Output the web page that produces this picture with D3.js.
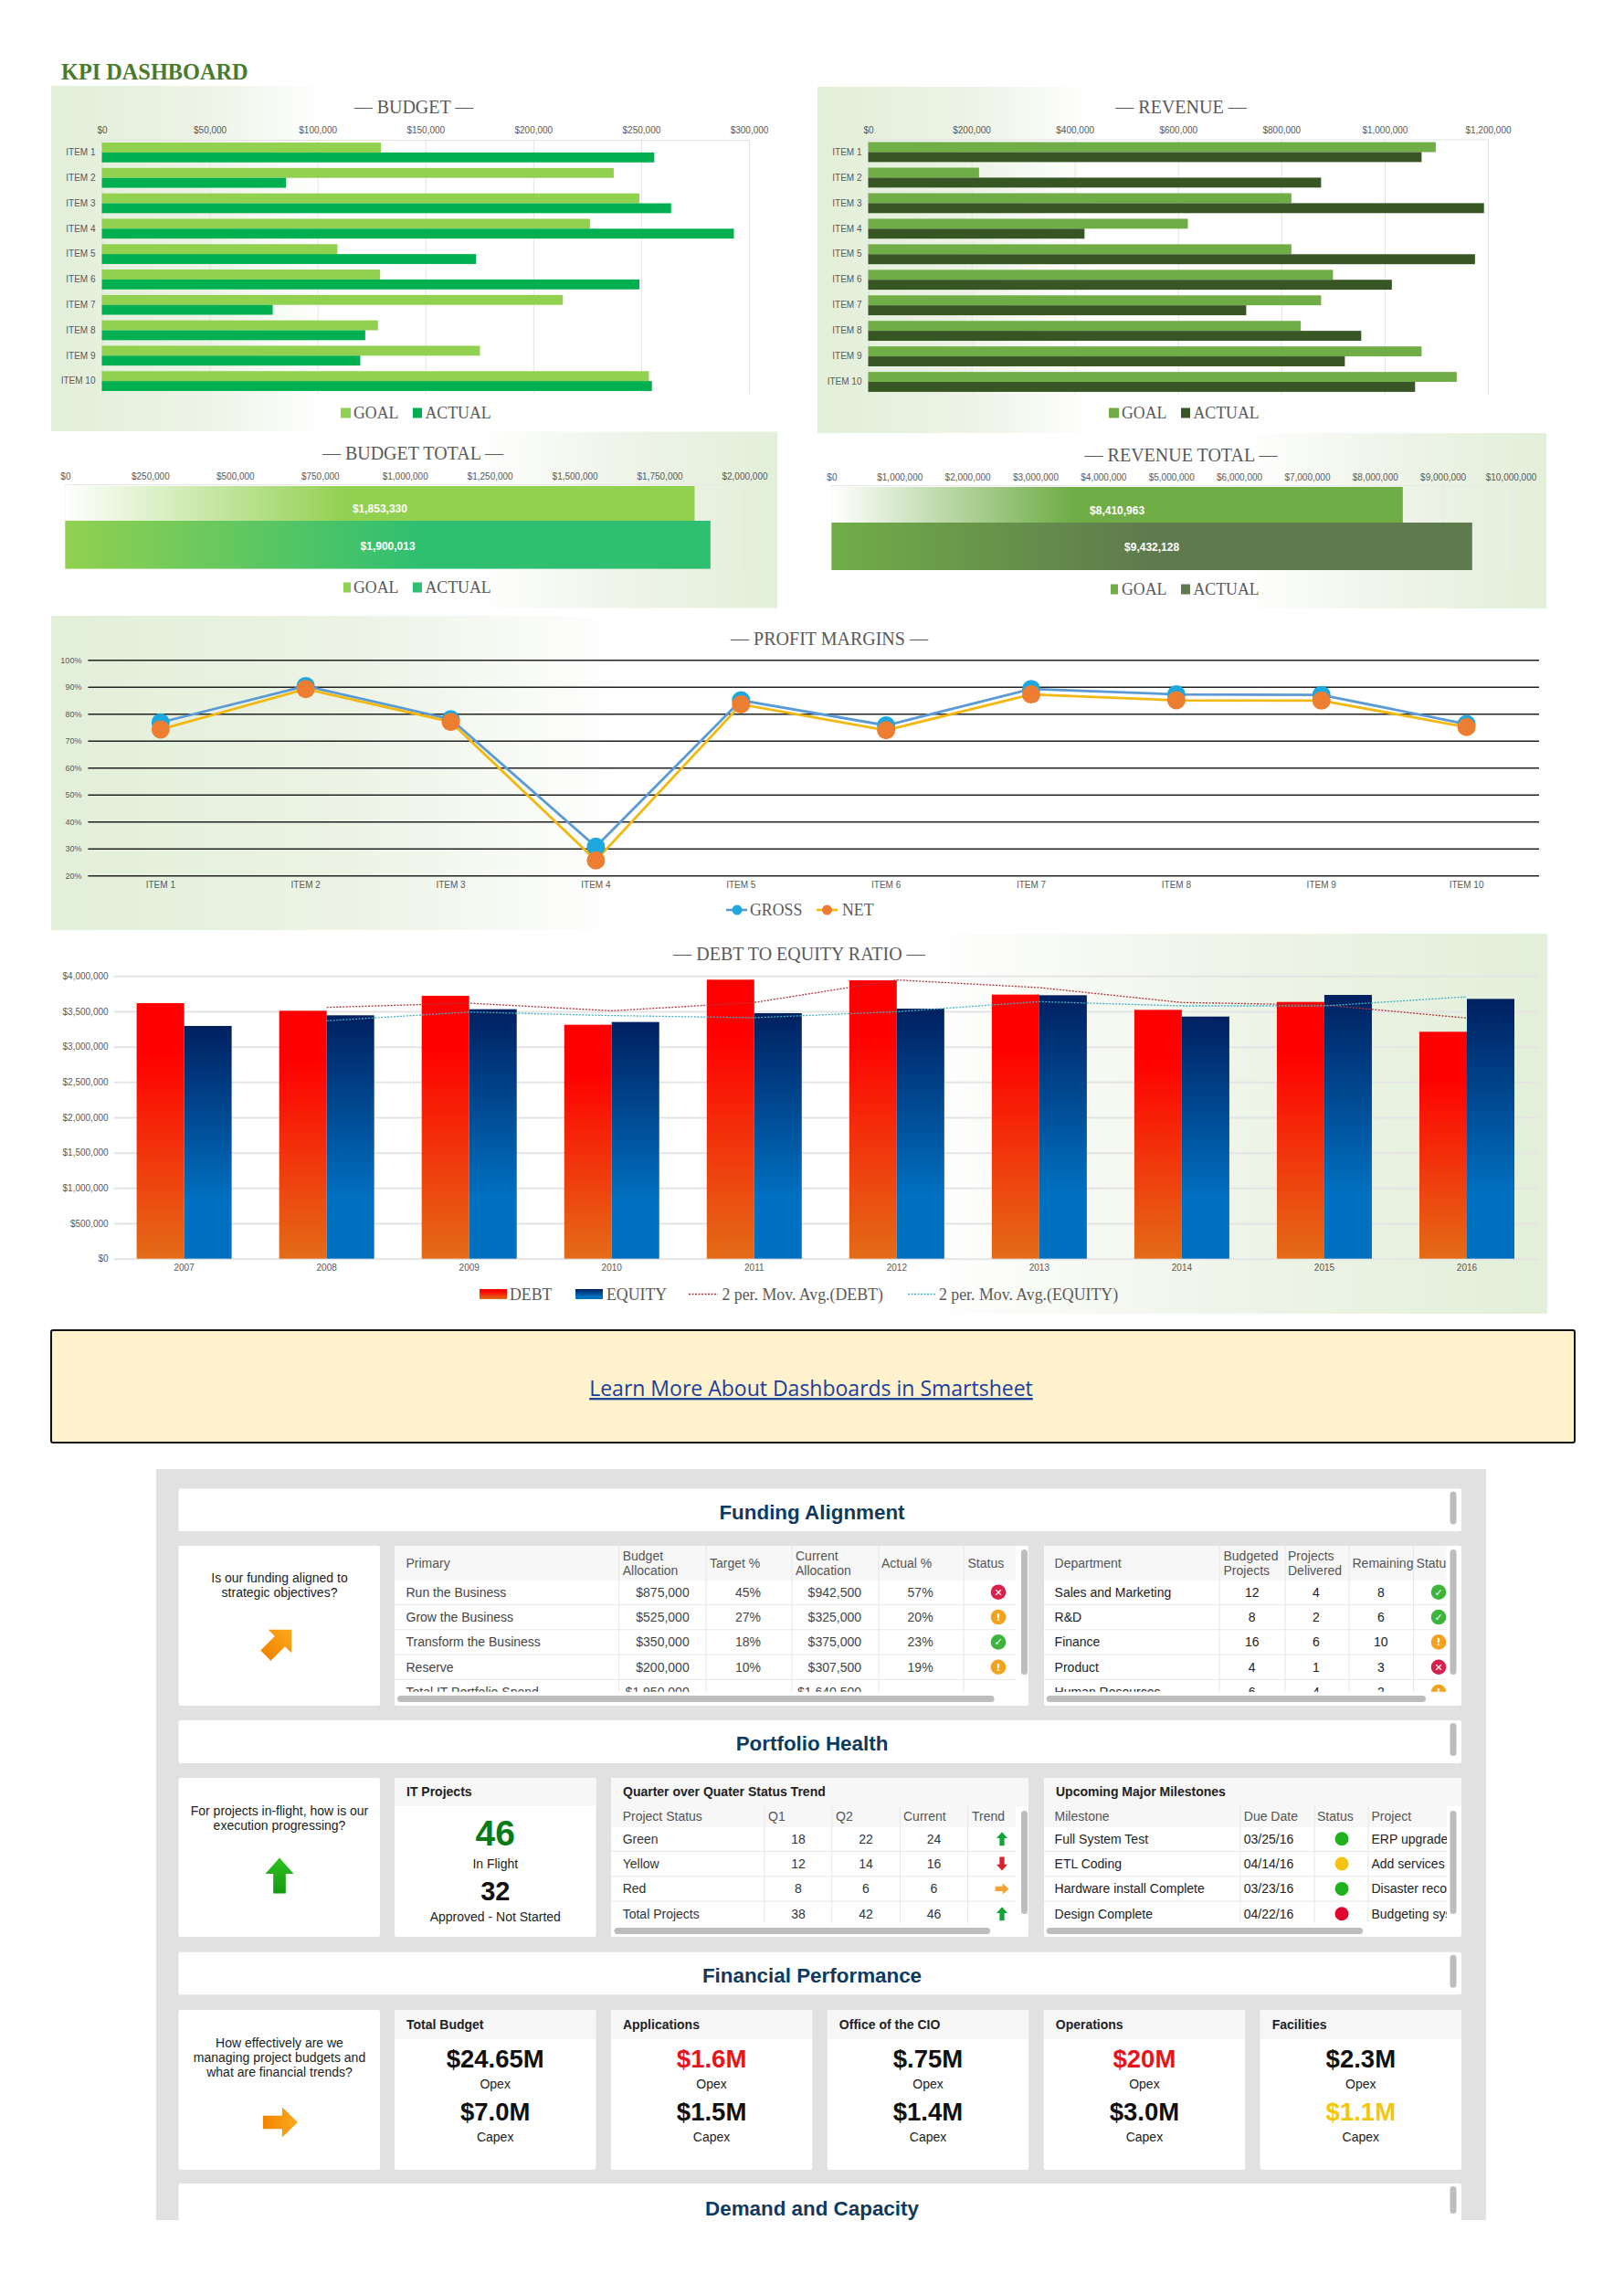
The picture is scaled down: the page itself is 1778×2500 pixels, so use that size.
<!DOCTYPE html>
<html>
<head>
<meta charset="utf-8">
<title>KPI Dashboard</title>
<script src="https://cdn.jsdelivr.net/npm/d3@7"></script>
<style>
body{margin:0;background:#fff}
svg{display:block}
.sans{font-family:"Liberation Sans",Arial,sans-serif}
.serif{font-family:"Liberation Serif","Times New Roman",serif}
</style>
</head>
<body>
<svg id="chart" width="1778" height="2500"></svg>
<script>
// chart data
var items = ["ITEM 1","ITEM 2","ITEM 3","ITEM 4","ITEM 5","ITEM 6","ITEM 7","ITEM 8","ITEM 9","ITEM 10"]
var budgetGoal = [129400,237300,249200,226300,109200,129000,213700,128000,175300,253600]
var budgetActual = [256100,85400,263900,293000,173500,249200,79200,122100,119800,255000]
var revenueGoal = [1099000,214700,819500,619000,819500,900000,877000,837700,1071600,1139700]
var revenueActual = [1071600,877000,1192400,418900,1175000,1014000,732000,954700,923000,1059000]
var budgetTotals = [1853330,1900013]
var revenueTotals = [8410963,9432128]
var totalNames = ["GOAL","ACTUAL"]
var gross = [76.8,90.3,78,30.7,85,75.7,89.2,87.2,87,76.2]
var net = [74.2,89.2,77,25.6,83.5,73.9,87.2,85,84.9,75.1]
var marginTicks = [20,30,40,50,60,70,80,90,100]
var years = ["2007","2008","2009","2010","2011","2012","2013","2014","2015","2016"]
var debt = [3616000,3508000,3720000,3310000,3948000,3939000,3737000,3521000,3633000,3211000]
var equity = [3293000,3444000,3530000,3349000,3474000,3538000,3728000,3426000,3732000,3676000]
var debtAvg = [null,3556000,3616000,3508000,3625000,3944000,3836000,3625000,3590000,3405000]
var equityAvg = [null,3366000,3490000,3440000,3410000,3495000,3637000,3577000,3577000,3706000]

// dashboard tables
var fundingHead = ["Primary","Budget\nAllocation","Target %","Current\nAllocation","Actual %","Status"]
var fundingRows = [
  ["Run the Business","$875,000","45%","$942,500","57%","bad"],
  ["Grow the Business","$525,000","27%","$325,000","20%","warn"],
  ["Transform the Business","$350,000","18%","$375,000","23%","good"],
  ["Reserve","$200,000","10%","$307,500","19%","warn"],
  ["Total IT Portfolio Spend","$1,950,000","","$1,640,500","",""]
]
var deptHead = ["Department","Budgeted\nProjects","Projects\nDelivered","Remaining","Status"]
var deptRows = [
  ["Sales and Marketing","12","4","8","good"],
  ["R&D","8","2","6","good"],
  ["Finance","16","6","10","warn"],
  ["Product","4","1","3","bad"],
  ["Human Resources","6","4","2","warn"]
]
var quarterHead = ["Project Status","Q1","Q2","Current","Trend"]
var quarterRows = [
  ["Green","18","22","24","up"],
  ["Yellow","12","14","16","down"],
  ["Red","8","6","6","right"],
  ["Total Projects","38","42","46","up"]
]
var mileHead = ["Milestone","Due Date","Status","Project"]
var mileRows = [
  ["Full System Test","03/25/16","green","ERP upgrade"],
  ["ETL Coding","04/14/16","yellow","Add services"],
  ["Hardware install Complete","03/23/16","green","Disaster recovery"],
  ["Design Complete","04/22/16","red","Budgeting system"]
]
var finNames = ["Total Budget","Applications","Office of the CIO","Operations","Facilities"]
var finOpex = ["$24.65M","$1.6M","$.75M","$20M","$2.3M"]
var finCapex = ["$7.0M","$1.5M","$1.4M","$3.0M","$1.1M"]
var finOpexFlag = ["ok","red","ok","red","ok"]
var finCapexFlag = ["ok","ok","ok","ok","yellow"]

var svg = d3.select("#chart")
var defs = svg.append("defs")

var addGradient = function(id, stops, vertical)
{
    var g = defs.append("linearGradient").attr("id",id)
        .attr("x1","0").attr("y1","0")
        .attr("x2",vertical ? "0" : "1").attr("y2",vertical ? "1" : "0")
    stops.forEach(function(s)
    {
        g.append("stop").attr("offset",s[0]).attr("stop-color",s[1])
    })
}
addGradient("panelLeft",[[0,"#e2efd9"],[0.2,"#ecf3e5"],[0.38,"#ffffff"],[1,"#ffffff"]])
addGradient("panelRight",[[0,"#ffffff"],[0.58,"#ffffff"],[0.8,"#eef4e8"],[1,"#e2efd9"]])
addGradient("budgetGoalFill",[[0,"#ffffff"],[0.45,"#92d050"],[1,"#92d050"]])
addGradient("budgetActualFill",[[0,"#92d050"],[0.55,"#2fbf71"],[1,"#2fbf71"]])
addGradient("revenueGoalFill",[[0,"#ffffff"],[0.42,"#70ad47"],[1,"#70ad47"]])
addGradient("revenueActualFill",[[0,"#70ad47"],[0.5,"#5f7a4e"],[1,"#5f7a4e"]])
addGradient("debtFill",[[0,"#ff0000"],[0.2,"#ff0000"],[1,"#e36c17"]],true)
addGradient("equityFill",[[0,"#002060"],[0.75,"#0070c0"],[1,"#0070c0"]],true)
addGradient("orangeArrow",[[0,"#ffa91f"],[1,"#f08400"]],true)
addGradient("greenArrow",[[0,"#2fc01f"],[1,"#129a12"]],true)

var panel = function(x,y,w,h,fill)
{
    svg.append("rect").attr("x",x).attr("y",y).attr("width",w).attr("height",h)
        .attr("fill","url(#"+fill+")")
}

var chartTitle = function(text,x,y)
{
    svg.append("text").attr("class","serif").attr("x",x).attr("y",y).attr("dy","0.35em")
        .attr("text-anchor","middle").attr("font-size",20).attr("fill","#595959")
        .text("— "+text+" —")
}

var legendText = function(text,x,y)
{
    svg.append("text").attr("class","serif").attr("x",x).attr("y",y).attr("dy","0.35em")
        .attr("font-size",17.8).attr("fill","#595959").text(text)
}
var legendBox = function(x,y,w,h,fill)
{
    svg.append("rect").attr("x",x).attr("y",y-h/2).attr("width",w).attr("height",h).attr("fill",fill)
}

var styleTicks = function(g)
{
    g.selectAll("text").attr("class","sans").attr("font-size",10).attr("fill","#595959")
        .attr("font-family",null)
    g.attr("font-family",null)
}

// budget and revenue horizontal bars
var itemBars = function(o)
{
    var x = d3.scaleLinear().domain([0,o.max]).range([o.x0,o.x1])
    var y = d3.scaleBand().domain(items).range([o.top,o.bottom]).paddingInner(0.22).paddingOuter(0.11)

    var xAxis = d3.axisTop(x).tickValues(d3.range(0,o.max+1,o.step))
        .tickFormat(d3.format("$,")).tickSize(-(o.bottom-o.top)).tickPadding(5)
    var gx = svg.append("g").attr("transform","translate(0,"+o.top+")").call(xAxis)
    gx.select(".domain").attr("stroke","#e2e2e2")
    gx.selectAll("line").attr("stroke","#e4e4e4")
    styleTicks(gx)
    gx.selectAll("text").attr("y",-7)

    var yAxis = d3.axisLeft(y).tickSize(0).tickPadding(7)
    var gy = svg.append("g").attr("transform","translate("+o.x0+",0)").call(yAxis)
    gy.select(".domain").attr("stroke","#e2e2e2")
    styleTicks(gy)

    var h = y.bandwidth()/2
    svg.append("g").selectAll("rect").data(o.goal).enter().append("rect")
        .attr("x",o.x0).attr("y",function(d,i){return y(items[i])})
        .attr("width",function(d){return x(d)-o.x0}).attr("height",h).attr("fill",o.goalColor)
    svg.append("g").selectAll("rect").data(o.actual).enter().append("rect")
        .attr("x",o.x0).attr("y",function(d,i){return y(items[i])+h})
        .attr("width",function(d){return x(d)-o.x0}).attr("height",h).attr("fill",o.actualColor)
}

// the two big total bars
var totalBars = function(o)
{
    var x = d3.scaleLinear().domain([0,o.max]).range([o.x0,o.x1])
    var xAxis = d3.axisTop(x).tickValues(d3.range(0,o.max+1,o.step))
        .tickFormat(d3.format("$,")).tickSize(-(o.bottom-o.top)).tickPadding(5)
    var gx = svg.append("g").attr("transform","translate(0,"+o.top+")").call(xAxis)
    gx.select(".domain").attr("stroke","#e8e8e8")
    gx.selectAll("line").attr("stroke","#e8e8e8")
    styleTicks(gx)
    gx.selectAll("text").attr("y",-5)

    var tops = [o.top+2,o.split]
    var bottoms = [o.split,o.bottom]
    var fills = [o.goalFill,o.actualFill]
    var labelY = [o.split-13,(o.split+o.bottom)/2+1]
    svg.append("g").selectAll("rect").data(o.values).enter().append("rect")
        .attr("x",o.x0).attr("y",function(d,i){return tops[i]})
        .attr("width",function(d){return x(d)-o.x0})
        .attr("height",function(d,i){return bottoms[i]-tops[i]})
        .attr("fill",function(d,i){return "url(#"+fills[i]+")"})
    svg.append("g").selectAll("text").data(o.values).enter().append("text")
        .attr("class","sans").attr("x",function(d){return (x(d)+o.x0)/2})
        .attr("y",function(d,i){return labelY[i]}).attr("dy","0.35em")
        .attr("text-anchor","middle").attr("font-size",12).attr("font-weight","bold").attr("fill","#fff")
        .text(function(d){return d3.format("$,")(d)})
}

var mainCode = function()
{
    svg.append("text").attr("class","serif").attr("x",67).attr("y",78).attr("dy","0.35em")
        .attr("font-size",24.3).attr("font-weight","bold").attr("fill","#4a7a2c").text("KPI DASHBOARD")

    // budget
    panel(56,94,795,378,"panelLeft")
    chartTitle("BUDGET",453,117)
    itemBars({x0:111.5,x1:820,top:153,bottom:431,max:300000,step:50000,goal:budgetGoal,actual:budgetActual,
        goalColor:"#92d050",actualColor:"#00b050"})
    legendBox(373,452,11,11,"#92d050"); legendText("GOAL",387,452)
    legendBox(452,452,10,11,"#00b050"); legendText("ACTUAL",465.5,452)

    // revenue
    panel(895,95,798,379,"panelLeft")
    chartTitle("REVENUE",1293,117)
    itemBars({x0:950.5,x1:1629,top:152.5,bottom:432,max:1200000,step:200000,goal:revenueGoal,actual:revenueActual,
        goalColor:"#70ad47",actualColor:"#375623"})
    legendBox(1214,452,11,11,"#70ad47"); legendText("GOAL",1228,452)
    legendBox(1293,452,10,11,"#375623"); legendText("ACTUAL",1306.5,452)

    // budget total
    panel(56,472.5,795,193,"panelRight")
    chartTitle("BUDGET TOTAL",452,496)
    totalBars({x0:71.4,x1:815,top:530,split:570,bottom:622.6,max:2000000,step:250000,values:budgetTotals,
        goalFill:"budgetGoalFill",actualFill:"budgetActualFill"})
    legendBox(376,643,8,11,"#92d050"); legendText(totalNames[0],387,643)
    legendBox(452,643,10,11,"#2fbf71"); legendText(totalNames[1],465.5,643)

    // revenue total
    panel(895,474,798,192,"panelRight")
    chartTitle("REVENUE TOTAL",1293,497.5)
    totalBars({x0:910.4,x1:1654,top:531,split:572,bottom:624,max:10000000,step:1000000,values:revenueTotals,
        goalFill:"revenueGoalFill",actualFill:"revenueActualFill"})
    legendBox(1216,645,8,11,"#70ad47"); legendText(totalNames[0],1228,645)
    legendBox(1293,645,10,11,"#5f7a4e"); legendText(totalNames[1],1306.5,645)

    marginChart()
    debtChart()
    callout()
    dashboard()
}

var marginChart = function()
{
    panel(56,674,1638,344,"panelLeft")
    chartTitle("PROFIT MARGINS",908,699)

    var x = d3.scaleBand().domain(items).range([96.4,1685])
    var y = d3.scaleLinear().domain([20,100]).range([958.3,722.3])
    var gy = svg.append("g").attr("transform","translate(96.4,0)")
        .call(d3.axisLeft(y).tickValues(marginTicks).tickFormat(function(d){return d+"%"}).tickSize(-1588.6).tickPadding(7))
    gy.select(".domain").remove()
    gy.selectAll("line").attr("stroke","#222").attr("stroke-width",1.4)
    styleTicks(gy)
    gy.selectAll("text").attr("font-size",9)

    var gx = svg.append("g").attr("transform","translate(0,958.3)")
        .call(d3.axisBottom(x).tickSize(0).tickPadding(7))
    gx.select(".domain").remove()
    styleTicks(gx)

    var line = d3.line().x(function(d,i){return x(items[i])+x.bandwidth()/2}).y(function(d){return y(d)})
    svg.append("path").datum(gross).attr("d",line).attr("fill","none").attr("stroke","#5b9bd5").attr("stroke-width",2.8)
    svg.append("path").datum(net).attr("d",line).attr("fill","none").attr("stroke","#f2b80f").attr("stroke-width",2.8)

    var dots = function(data,color)
    {
        svg.append("g").selectAll("circle").data(data).enter().append("circle")
            .attr("cx",function(d,i){return x(items[i])+x.bandwidth()/2}).attr("cy",function(d){return y(d)})
            .attr("r",10).attr("fill",color)
    }
    dots(gross,"#1da8e0")
    dots(net,"#ed7d31")

    svg.append("line").attr("x1",795).attr("x2",818).attr("y1",996).attr("y2",996).attr("stroke","#5b9bd5").attr("stroke-width",2.6)
    svg.append("circle").attr("cx",807).attr("cy",996).attr("r",5.5).attr("fill","#1da8e0")
    legendText("GROSS",821,996)
    svg.append("line").attr("x1",894).attr("x2",917).attr("y1",996).attr("y2",996).attr("stroke","#f2b80f").attr("stroke-width",2.6)
    svg.append("circle").attr("cx",905.5).attr("cy",996).attr("r",5.5).attr("fill","#ed7d31")
    legendText("NET",922,996)
}

var debtChart = function()
{
    panel(56,1022,1638,416,"panelRight")
    chartTitle("DEBT TO EQUITY RATIO",875,1044)

    var x = d3.scaleBand().domain(years).range([123.6,1684])
    var y = d3.scaleLinear().domain([0,4000000]).range([1377.7,1068.3])
    var gy = svg.append("g").attr("transform","translate(124.6,0)")
        .call(d3.axisLeft(y).ticks(8).tickFormat(d3.format("$,")).tickSize(-1560).tickPadding(6))
    gy.select(".domain").remove()
    gy.selectAll("line").attr("stroke","#e4e4e4").attr("stroke-width",2)
    styleTicks(gy)

    var gx = svg.append("g").attr("transform","translate(0,1377.7)")
        .call(d3.axisBottom(x).tickSize(0).tickPadding(6))
    gx.select(".domain").remove()
    styleTicks(gx)

    var barW = x.bandwidth()/3
    var center = function(i){return x(years[i])+x.bandwidth()/2}
    svg.append("g").selectAll("rect").data(debt).enter().append("rect")
        .attr("x",function(d,i){return center(i)-barW}).attr("y",function(d){return y(d)})
        .attr("width",barW).attr("height",function(d){return y(0)-y(d)}).attr("fill","url(#debtFill)")
    svg.append("g").selectAll("rect").data(equity).enter().append("rect")
        .attr("x",function(d,i){return center(i)}).attr("y",function(d){return y(d)})
        .attr("width",barW).attr("height",function(d){return y(0)-y(d)}).attr("fill","url(#equityFill)")

    var line = d3.line().defined(function(d){return d!==null})
        .x(function(d,i){return center(i)}).y(function(d){return y(d)})
    svg.append("path").datum(debtAvg).attr("d",line).attr("fill","none").attr("stroke","#b0363f")
        .attr("stroke-width",1.3).attr("stroke-dasharray","2 1.5")
    svg.append("path").datum(equityAvg).attr("d",line).attr("fill","none").attr("stroke","#45b0c4")
        .attr("stroke-width",1.3).attr("stroke-dasharray","2 1.5")

    legendBox(525,1416.5,30,11,"url(#debtFill)"); legendText("DEBT",558,1416.5)
    legendBox(630,1416.5,30,11,"url(#equityFill)"); legendText("EQUITY",664,1416.5)
    svg.append("line").attr("x1",754).attr("x2",786).attr("y1",1416.5).attr("y2",1416.5)
        .attr("stroke","#b0363f").attr("stroke-width",1.3).attr("stroke-dasharray","2 1.5")
    legendText("2 per. Mov. Avg.(DEBT)",790.5,1416.5)
    svg.append("line").attr("x1",994).attr("x2",1025).attr("y1",1416.5).attr("y2",1416.5)
        .attr("stroke","#45b0c4").attr("stroke-width",1.3).attr("stroke-dasharray","2 1.5")
    legendText("2 per. Mov. Avg.(EQUITY)",1028,1416.5)
}

var callout = function()
{
    svg.append("rect").attr("x",56).attr("y",1456).attr("width",1668).attr("height",123)
        .attr("fill","#fff2cc").attr("stroke","#111").attr("stroke-width",2).attr("rx",2)
    svg.append("text").attr("x",888).attr("y",1520).attr("dy","0.35em").attr("text-anchor","middle")
        .attr("font-family","'Open Sans',sans-serif").attr("font-size",23).attr("fill","#1a3e9c")
        .attr("text-decoration","underline").text("Learn More About Dashboards in Smartsheet")
}

// small shapes used inside the dashboard cards
var arrowShape = function(g,x,y,w,h,rotate,fill)
{
    // unit arrow pointing up, scaled to the size wanted
    var pts = [[0,-0.5],[0.5,-0.05],[0.22,-0.05],[0.22,0.5],[-0.22,0.5],[-0.22,-0.05],[-0.5,-0.05]]
    var path = d3.line().x(function(p){return p[0]*w}).y(function(p){return p[1]*h}).curve(d3.curveLinearClosed)
    g.append("path").attr("d",path(pts)).attr("fill",fill)
        .attr("transform","translate("+x+","+y+") rotate("+rotate+")")
}

var statusIcon = function(g,x,y,kind)
{
    var colors = {bad:"#d8204c",warn:"#f4a21d",good:"#3eb53a"}
    var marks = {bad:"✕",warn:"!",good:"✓"}
    g.append("circle").attr("cx",x).attr("cy",y).attr("r",8.3).attr("fill",colors[kind])
    g.append("text").attr("x",x).attr("y",y).attr("dy","0.36em").attr("text-anchor","middle")
        .attr("font-family","DejaVu Sans").attr("font-weight","bold").attr("font-size",11).attr("fill","#fff").text(marks[kind])
}

var statusDot = function(g,x,y,kind)
{
    var colors = {green:"#1eb31e",yellow:"#f3c513",red:"#e0062d"}
    g.append("circle").attr("cx",x).attr("cy",y).attr("r",7.5).attr("fill",colors[kind])
}

var trendArrow = function(g,x,y,kind)
{
    if (kind=="up") arrowShape(g,x,y,12,15,0,"#13a538")
    if (kind=="down") arrowShape(g,x,y,12,15,180,"#d8202f")
    if (kind=="right") arrowShape(g,x,y,12,15,90,"#f7a234")
}

var card = function(x,y,w,h)
{
    return svg.append("rect").attr("x",x).attr("y",y).attr("width",w).attr("height",h).attr("fill","#fff").attr("rx",2)
}

var cardHead = function(x,y,w,h,text)
{
    svg.append("rect").attr("x",x).attr("y",y).attr("width",w).attr("height",h).attr("fill","#f7f7f7")
    svg.append("text").attr("class","sans").attr("x",x+13).attr("y",y+h/2).attr("dy","0.35em")
        .attr("font-size",14).attr("font-weight","bold").attr("fill","#222").text(text)
}

var band = function(y,h,text,titleY)
{
    card(195.5,y,1404.5,h)
    svg.append("text").attr("class","sans").attr("x",889).attr("y",titleY).attr("dy","0.35em")
        .attr("text-anchor","middle").attr("font-size",22.4).attr("font-weight","bold").attr("fill","#0f3a5f").text(text)
    svg.append("rect").attr("x",1587.5).attr("y",y+3).attr("width",7).attr("height",Math.min(h-10,36)).attr("rx",3.5).attr("fill","#bdbdbd")
}

var question = function(lines,y)
{
    svg.append("g").selectAll("text").data(lines).enter().append("text")
        .attr("class","sans").attr("x",306).attr("y",function(d,i){return y+i*16}).attr("dy","0.35em")
        .attr("text-anchor","middle").attr("font-size",14).attr("fill","#222").text(function(d){return d})
}

var scrollBar = function(x,y,w,h)
{
    svg.append("rect").attr("x",x).attr("y",y).attr("width",w).attr("height",h).attr("rx",3.5).attr("fill","#bdbdbd")
}

var tableCount = 0
var drawTable = function(o)
{
    tableCount = tableCount+1
    var id = "tableClip"+tableCount
    defs.append("clipPath").attr("id",id).append("rect")
        .attr("x",o.left).attr("y",o.headTop).attr("width",o.clipRight-o.left).attr("height",o.clipBottom-o.headTop)
    var g = svg.append("g").attr("clip-path","url(#"+id+")").attr("class","sans")

    g.append("rect").attr("x",o.left).attr("y",o.headTop).attr("width",o.clipRight-o.left)
        .attr("height",o.headBottom-o.headTop).attr("fill","#f7f7f7")

    o.rows.forEach(function(row,i)
    {
        var cy = o.rowStart+i*27.35
        g.append("line").attr("x1",o.left).attr("x2",o.clipRight).attr("y1",cy+13.7).attr("y2",cy+13.7)
            .attr("stroke","#e8e8e8")
        row.forEach(function(cell,c)
        {
            if (cell=="") return
            var col = o.cols[c]
            if (col.type=="status") statusIcon(g,col.at,cy,cell)
            else if (col.type=="dot") statusDot(g,col.at,cy,cell)
            else if (col.type=="trend") trendArrow(g,col.at,cy,cell)
            else g.append("text").attr("x",col.at).attr("y",cy).attr("dy","0.35em")
                .attr("text-anchor",col.anchor).attr("font-size",14).attr("fill",o.textColor).text(cell)
        })
    })

    o.cols.forEach(function(col,c)
    {
        if (col.sep) g.append("line").attr("x1",col.sep).attr("x2",col.sep).attr("y1",o.headTop).attr("y2",o.clipBottom).attr("stroke","#e6e6e6")
        var parts = o.head[c].split("\n")
        var mid = (o.headTop+o.headBottom)/2
        parts.forEach(function(p,k)
        {
            g.append("text").attr("x",col.headX).attr("y",mid+(k-(parts.length-1)/2)*16).attr("dy","0.35em")
                .attr("font-size",14).attr("fill","#555").text(p)
        })
    })
}

var dashboard = function()
{
    svg.append("rect").attr("x",171).attr("y",1608).attr("width",1456).attr("height",822).attr("fill","#e1e1e1")

    // funding alignment
    band(1629.5,46.5,"Funding Alignment",1655)
    card(195.5,1692,220.5,175)
    question(["Is our funding aligned to","strategic objectives?"],1727)
    arrowShape(svg,305,1798,36,40,45,"url(#orangeArrow)")
    card(432,1692,694,175)
    drawTable({left:432,clipRight:1112,headTop:1692,headBottom:1730,rowStart:1742.7,clipBottom:1851.7,
        rows:fundingRows,head:fundingHead,textColor:"#444",
        cols:[{at:444.5,anchor:"start",headX:444.5},
            {at:754.7,anchor:"end",headX:681.7,sep:677.7},
            {at:833,anchor:"end",headX:777,sep:773},
            {at:943,anchor:"end",headX:871,sep:867},
            {at:1021.6,anchor:"end",headX:965,sep:962},
            {at:1093,type:"status",headX:1059.5,sep:1055}]})
    scrollBar(1118,1696,7,137)
    scrollBar(435,1856,653.6,7)

    card(1143,1692,457,175)
    drawTable({left:1143,clipRight:1583.6,headTop:1692,headBottom:1730,rowStart:1742.7,clipBottom:1851.7,
        rows:deptRows,head:deptHead,textColor:"#222",
        cols:[{at:1154.6,anchor:"start",headX:1154.6},
            {at:1370.7,anchor:"middle",headX:1339.5,sep:1335},
            {at:1441,anchor:"middle",headX:1410,sep:1407},
            {at:1511.8,anchor:"middle",headX:1480.5,sep:1477},
            {at:1575,type:"status",headX:1550.6,sep:1547.5}]})
    scrollBar(1587.5,1696,7,137)
    scrollBar(1145.7,1856,415.3,7)

    // portfolio health
    band(1883,47,"Portfolio Health",1908)
    card(195.5,1946,220.5,174)
    question(["For projects in-flight, how is our","execution progressing?"],1981.7)
    arrowShape(svg,306,2053,31,39,0,"url(#greenArrow)")

    card(432,1946,220.5,174)
    cardHead(432,1946,220.5,31,"IT Projects")
    var mid = 542.3
    var bigText = function(t,y,size,color)
    {
        svg.append("text").attr("class","sans").attr("x",mid).attr("y",y).attr("dy","0.35em").attr("text-anchor","middle")
            .attr("font-size",size).attr("font-weight","bold").attr("fill",color).text(t)
    }
    var smallText = function(t,x,y)
    {
        svg.append("text").attr("class","sans").attr("x",x).attr("y",y).attr("dy","0.35em").attr("text-anchor","middle")
            .attr("font-size",14).attr("fill","#222").text(t)
    }
    bigText("46",2006.7,39,"#0a7a14")
    smallText("In Flight",mid,2040)
    bigText("32",2070,29,"#111")
    smallText("Approved - Not Started",mid,2098)

    card(669,1946,457,174)
    cardHead(669,1946,457,31,"Quarter over Quater Status Trend")
    drawTable({left:669,clipRight:1112,headTop:1977,headBottom:2000,rowStart:2012.7,clipBottom:2105,
        rows:quarterRows,head:quarterHead,textColor:"#333",
        cols:[{at:681.7,anchor:"start",headX:681.7},
            {at:874,anchor:"middle",headX:841,sep:836.8},
            {at:948,anchor:"middle",headX:915,sep:910.8},
            {at:1022.5,anchor:"middle",headX:989,sep:985.4},
            {at:1097,type:"trend",headX:1064,sep:1059.6}]})
    scrollBar(1118,1982,7,113)
    scrollBar(672.5,2110,411.5,7)

    card(1143,1946,457,174)
    cardHead(1143,1946,457,31,"Upcoming Major Milestones")
    drawTable({left:1143,clipRight:1584,headTop:1977,headBottom:2000,rowStart:2012.7,clipBottom:2105,
        rows:mileRows,head:mileHead,textColor:"#222",
        cols:[{at:1154.6,anchor:"start",headX:1154.6},
            {at:1361.8,anchor:"start",headX:1361.8,sep:1358},
            {at:1469,type:"dot",headX:1442,sep:1439},
            {at:1501.5,anchor:"start",headX:1501.5,sep:1498}]})
    scrollBar(1587.5,1982,7,113)
    scrollBar(1145.7,2110,346.3,7)

    // financial performance
    band(2136.7,46.6,"Financial Performance",2161.7)
    card(195.5,2200,220.5,175)
    question(["How effectively are we","managing project budgets and","what are financial trends?"],2236)
    arrowShape(svg,307,2323,33,38,90,"url(#orangeArrow)")

    var cardX = d3.scaleBand().domain(finNames).range([432,1600]).paddingInner(0.07)
    var flagColor = d3.scaleOrdinal().domain(["ok","red","yellow"]).range(["#111","#e8141c","#f5c60a"])
    finNames.forEach(function(name,i)
    {
        var cx = cardX(name)
        var cw = cardX.bandwidth()
        card(cx,2200,cw,175)
        cardHead(cx,2200,cw,32,name)
        var c = cx+cw/2
        var big = function(t,y,color)
        {
            svg.append("text").attr("class","sans").attr("x",c).attr("y",y).attr("dy","0.35em").attr("text-anchor","middle")
                .attr("font-size",27.5).attr("font-weight","bold").attr("fill",color).text(t)
        }
        big(finOpex[i],2253,flagColor(finOpexFlag[i]))
        smallText("Opex",c,2281.3)
        big(finCapex[i],2311.7,flagColor(finCapexFlag[i]))
        smallText("Capex",c,2339.3)
    })

    // demand band gets cut off by the bottom of the grey area
    band(2390,40,"Demand and Capacity",2417)
}

mainCode()
</script>
</body>
</html>
